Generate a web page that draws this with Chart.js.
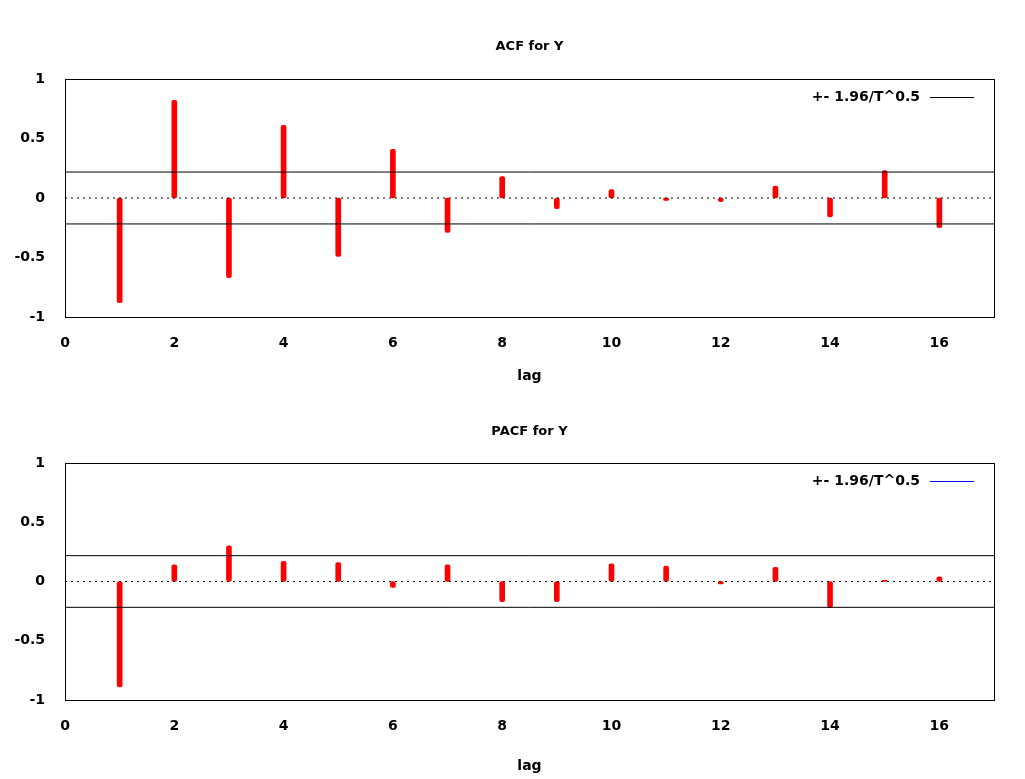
<!DOCTYPE html>
<html>
<head>
<meta charset="utf-8">
<script src="https://cdn.jsdelivr.net/npm/chart.js@4"></script>
<style>
  body { margin: 0; background: #fff; }
  canvas { display: block; }
</style>
</head>
<body>
<canvas id="acf" width="1025" height="389"></canvas>
<canvas id="pacf" width="1025" height="390"></canvas>
<script>
// Data
const lags = [1, 2, 3, 4, 5, 6, 7, 8, 9, 10, 11, 12, 13, 14, 15, 16];
const acfValues = [-0.88, 0.82, -0.67, 0.61, -0.49, 0.41, -0.29, 0.18, -0.09, 0.07, -0.02, -0.03, 0.10, -0.16, 0.23, -0.25];
const pacfValues = [-0.89, 0.14, 0.30, 0.17, 0.16, -0.05, 0.14, -0.17, -0.17, 0.15, 0.13, -0.02, 0.12, -0.22, 0.01, 0.04];
const band = 0.218;
const xTicks = [0, 2, 4, 6, 8, 10, 12, 14, 16];
const yTicks = [-1, -0.5, 0, 0.5, 1];
const legendLabel = '+- 1.96/T^0.5';

const FONT = '"DejaVu Sans", sans-serif';

/**
 * Draw title, frame and the legend on top of the chart
 */
function overlayPlugin(title, titleY, legendColor) {
  return {
    id: 'overlay',
    afterDraw(chart) {
      const ctx = chart.ctx;
      const a = chart.chartArea;
      ctx.save();
      ctx.fillStyle = '#000';
      ctx.font = 'bold 13px ' + FONT;
      ctx.textAlign = 'center';
      ctx.textBaseline = 'middle';
      ctx.fillText(title, (a.left + a.right) / 2, titleY);
      // legend
      ctx.textAlign = 'right';
      ctx.font = 'bold 14px ' + FONT;
      ctx.fillText(legendLabel, a.right - 74, a.top + 18);
      ctx.strokeStyle = legendColor;
      ctx.lineWidth = 1;
      ctx.beginPath();
      ctx.moveTo(a.right - 64, a.top + 18.5);
      ctx.lineTo(a.right - 20, a.top + 18.5);
      ctx.stroke();
      // frame
      ctx.strokeStyle = '#000';
      ctx.strokeRect(a.left + 0.5, a.top + 0.5, a.right - a.left, a.bottom - a.top);
      ctx.restore();
    }
  };
}

function makeChart(id, values, title, titleY, top, bottom, legendColor) {
  const ctx = document.getElementById(id).getContext('2d');
  const tickFont = { family: FONT, size: 14, weight: 'bold' };
  return new Chart(ctx, {
    type: 'bar',
    data: {
      datasets: [
        {
          type: 'line',
          data: [{ x: 0, y: band }, { x: 17, y: band }],
          borderColor: '#000', borderWidth: 1, pointRadius: 0
        },
        {
          type: 'line',
          data: [{ x: 0, y: -band }, { x: 17, y: -band }],
          borderColor: '#000', borderWidth: 1, pointRadius: 0
        },
        {
          type: 'line',
          data: [{ x: 0, y: 0 }, { x: 17, y: 0 }],
          borderColor: '#000', borderWidth: 1, borderDash: [2, 4], pointRadius: 0
        },
        {
          type: 'bar',
          data: lags.map((l, i) => ({ x: l, y: [0, values[i]] })),
          backgroundColor: '#ff0000',
          barThickness: 5,
          borderRadius: 2,
          borderSkipped: false
        }
      ]
    },
    options: {
      responsive: false,
      animation: false,
      layout: { padding: { top: top, right: 31, bottom: 0, left: 0 } },
      plugins: { legend: { display: false }, tooltip: { enabled: false } },
      scales: {
        x: {
          type: 'linear', min: 0, max: 17, offset: false,
          grid: { display: false },
          border: { display: false },
          afterBuildTicks: s => { s.ticks = xTicks.map(v => ({ value: v })); },
          afterFit: s => { s.height = bottom; },
          ticks: { color: '#000', font: tickFont, padding: 10 },
          title: { display: true, text: 'lag', color: '#000', font: tickFont, padding: { top: 9 } }
        },
        y: {
          min: -1, max: 1,
          grid: { display: false },
          border: { display: false },
          afterBuildTicks: s => { s.ticks = yTicks.map(v => ({ value: v })); },
          afterFit: s => { s.width = 65; },
          ticks: { color: '#000', font: tickFont, padding: 12, callback: v => String(v) }
        }
      }
    },
    plugins: [overlayPlugin(title, titleY, legendColor)]
  });
}

makeChart('acf', acfValues, 'ACF for Y', 47, 79, 72, '#000');
makeChart('pacf', pacfValues, 'PACF for Y', 43, 74, 79, '#0000ff');
</script>
</body>
</html>
